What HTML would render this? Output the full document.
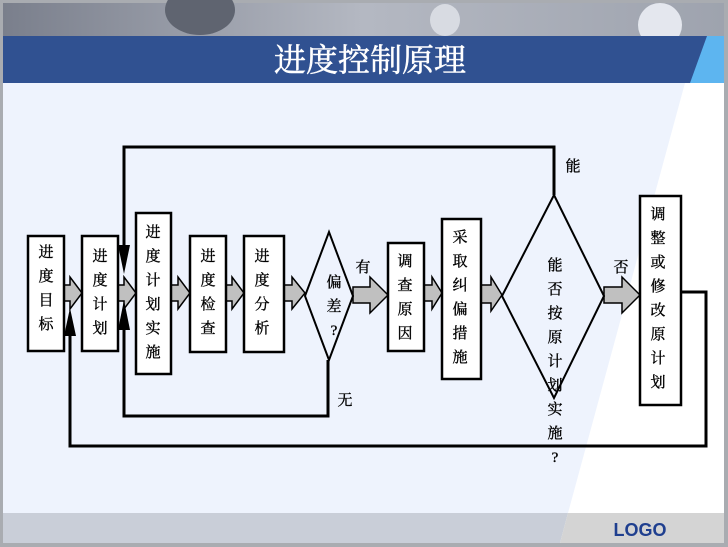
<!DOCTYPE html>
<html><head><meta charset="utf-8"><style>
html,body{margin:0;padding:0;width:728px;height:547px;overflow:hidden;background:#fff}
svg{display:block}
.t{font-family:"Liberation Serif","Noto Serif CJK SC",serif;font-size:15px;fill:#000;text-anchor:middle;stroke:#000;stroke-width:0.35}
</style></head><body>
<svg width="728" height="547" viewBox="0 0 728 547" xmlns="http://www.w3.org/2000/svg">
<defs>
<linearGradient id="top" x1="0" y1="0" x2="1" y2="0">
<stop offset="0" stop-color="#7a7f8c"/><stop offset="0.5" stop-color="#b4b8c2"/><stop offset="1" stop-color="#9ea3ae"/>
</linearGradient>
</defs>
<rect x="0" y="0" width="728" height="547" fill="#a9acb1"/>
<rect x="3" y="3" width="721" height="540" fill="#ffffff"/>
<rect x="3" y="3" width="721" height="33" fill="url(#top)"/>
<ellipse cx="200" cy="10" rx="35" ry="25" fill="#5f6470"/>
<ellipse cx="445" cy="20" rx="15" ry="16" fill="#d8dbe2"/>
<ellipse cx="660" cy="25" rx="22" ry="22" fill="#e4e7ee"/>
<polygon points="3,83 685,83 568,513 3,513" fill="#eef3fd"/>
<rect x="3" y="36" width="721" height="47" fill="#5db5f0"/>
<polygon points="3,36 707,36 690,83 3,83" fill="#305191"/>
<text x="370" y="71" font-family="Liberation Serif,'Noto Serif CJK SC',serif" font-size="32" fill="#fff" stroke="#fff" stroke-width="0.5" text-anchor="middle">进度控制原理</text>
<polygon points="3,513 568,513 560,543 3,543" fill="#c9ced8"/>
<polygon points="568,513 724,513 724,543 560,543" fill="#d4d4d4"/>
<text x="640" y="536" font-family="Liberation Sans,sans-serif" font-weight="bold" font-size="18" fill="#1f3f8f" text-anchor="middle">LOGO</text>

<g fill="#c0c0c0" stroke="#000" stroke-width="1.5">
<polygon points="64,285 70,285 70,277 82,293 70,309 70,301 64,301"/>
<polygon points="118,285 124,285 124,277 136,293 124,309 124,301 118,301"/>
<polygon points="171,285 178,285 178,277 190,293 178,309 178,301 171,301"/>
<polygon points="226,285 232,285 232,277 244,293 232,309 232,301 226,301"/>
<polygon points="284,285 292,285 292,277 305,293 292,309 292,301 284,301"/>
<polygon points="353,287 370,287 370,277 388,295 370,313 370,303 353,303"/>
<polygon points="424,285 432,285 432,277 442,293 432,309 432,301 424,301"/>
<polygon points="481,285 491,285 491,277 502,295 491,311 491,303 481,303"/>
<polygon points="604,287 622,287 622,277 640,295 622,313 622,303 604,303"/>
</g>

<g fill="none" stroke="#000" stroke-width="3">
<polyline points="554,195 554,147 124,147 124,250"/>
<polyline points="328,360 328,416 124,416 124,330"/>
<polyline points="681,292 706,292 706,446 70,446 70,330"/>
</g>
<g fill="#000">
<polygon points="118,245 130,245 124,274"/>
<polygon points="118,330 130,330 124,300"/>
<polygon points="64,336 76,336 70,308"/>
</g>

<g fill="#fff" stroke="#000" stroke-width="2.5">
<rect x="28" y="236" width="36" height="115"/>
<rect x="82" y="236" width="36" height="115"/>
<rect x="136" y="213" width="35" height="161"/>
<rect x="190" y="236" width="36" height="116"/>
<rect x="244" y="236" width="40" height="116"/>
<rect x="388" y="243" width="36" height="108"/>
<rect x="442" y="219" width="39" height="160"/>
<rect x="640" y="196" width="41" height="209"/>
</g>
<g fill="none" stroke="#000" stroke-width="2">
<polygon points="329,232 353,296 329,360 305,296"/>
<polygon points="554,195 604,296 554,398 502,296"/>
</g>

<g class="t">
<text x="46" y="257">进</text><text x="46" y="281">度</text><text x="46" y="305">目</text><text x="46" y="329">标</text>
<text x="100" y="261">进</text><text x="100" y="285">度</text><text x="100" y="309">计</text><text x="100" y="333">划</text>
<text x="153" y="237">进</text><text x="153" y="261">度</text><text x="153" y="285">计</text><text x="153" y="309">划</text><text x="153" y="333">实</text><text x="153" y="357">施</text>
<text x="208" y="261">进</text><text x="208" y="285">度</text><text x="208" y="309">检</text><text x="208" y="333">查</text>
<text x="262" y="261">进</text><text x="262" y="285">度</text><text x="262" y="309">分</text><text x="262" y="333">析</text>
<text x="334" y="287">偏</text><text x="334" y="311">差</text><text x="334" y="335">?</text>
<text x="405" y="266">调</text><text x="405" y="290">查</text><text x="405" y="314">原</text><text x="405" y="338">因</text>
<text x="460" y="242">采</text><text x="460" y="266">取</text><text x="460" y="290">纠</text><text x="460" y="314">偏</text><text x="460" y="338">措</text><text x="460" y="362">施</text>
<text x="555" y="270">能</text><text x="555" y="294">否</text><text x="555" y="318">按</text><text x="555" y="342">原</text><text x="555" y="366">计</text><text x="555" y="390">划</text><text x="555" y="414">实</text><text x="555" y="438">施</text><text x="555" y="462">?</text>
<text x="658" y="219">调</text><text x="658" y="243">整</text><text x="658" y="267">或</text><text x="658" y="291">修</text><text x="658" y="315">改</text><text x="658" y="339">原</text><text x="658" y="363">计</text><text x="658" y="387">划</text>
<text x="363" y="272">有</text>
<text x="345" y="405">无</text>
<text x="573" y="171">能</text>
<text x="621" y="272">否</text>
</g>
</svg>
</body></html>
